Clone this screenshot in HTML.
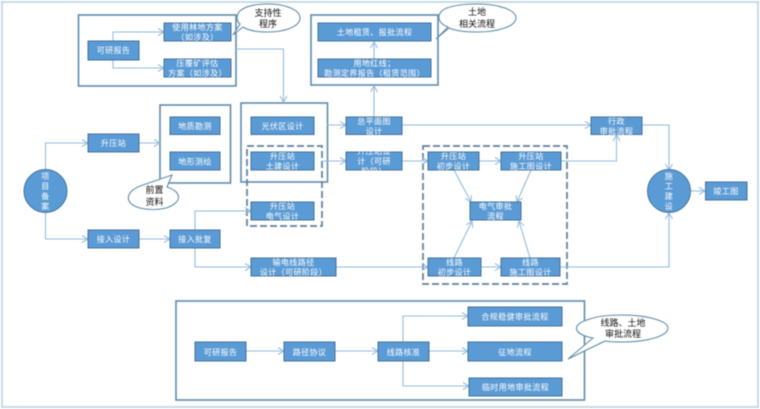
<!DOCTYPE html>
<html><head><meta charset="utf-8"><style>
html,body{margin:0;padding:0;background:#fff}
svg{display:block;filter:blur(.45px)}
text{font-family:"Liberation Sans","Noto Sans CJK SC",sans-serif;font-size:8px;text-anchor:middle;fill:#fff;letter-spacing:.4px}
text.k{fill:#111;font-size:9px;letter-spacing:0}
.b{fill:#5b9bd5;stroke:#41719c;stroke-width:1}
.g{fill:none;stroke:#5f8cab;stroke-width:1.6}
.d{fill:none;stroke:#5f7f9a;stroke-width:1.7;stroke-dasharray:7 3}
.c{fill:none;stroke:#94bcdc;stroke-width:1.1}
.o{fill:#fff;stroke:#5f8cab;stroke-width:1.1}
</style></head><body>
<svg width="760" height="409" viewBox="0 0 760 409" xmlns="http://www.w3.org/2000/svg">
<rect x="2" y="2" width="756" height="405" fill="#fff" stroke="#c8dae4" stroke-width="2"/>
<rect class="g" x="78.5" y="15" width="157.500" height="71"/>
<rect class="g" x="311" y="15" width="127" height="70"/>
<rect class="g" x="160" y="105" width="70.500" height="78"/>
<rect class="g" x="241" y="103" width="86.500" height="79"/>
<rect class="g" x="176" y="301" width="408.500" height="99"/>
<rect class="d" x="247" y="146" width="75" height="80"/>
<rect class="d" x="423" y="146" width="144" height="138"/>
<defs><marker id="a" markerWidth="8" markerHeight="8" refX="7" refY="4" orient="auto" markerUnits="userSpaceOnUse"><path d="M1 .5L7 4L1 7.500" fill="none" stroke="#94bcdc" stroke-width="1.1"/></marker></defs>
<g class="c" marker-end="url(#a)">
<path class="c" marker-end="url(#a)" d="M113 41V32H164"/>
<path class="c" marker-end="url(#a)" d="M113 60V68H164"/>
<path class="c" marker-end="url(#a)" d="M236 49H283.500V102"/>
<path class="c" marker-end="url(#a)" d="M45.500 170V143H88"/>
<path class="c" marker-end="url(#a)" d="M139 143H160"/>
<path class="c" marker-end="url(#a)" d="M45.500 212V239H88"/>
<path class="c" marker-end="url(#a)" d="M139 239H170"/>
<path class="c" marker-end="url(#a)" d="M195 230V211H251"/>
<path class="c" marker-end="url(#a)" d="M195 248V267H251"/>
<path class="c" marker-end="url(#a)" d="M327 125H346"/>
<path class="c" marker-end="url(#a)" d="M322 161H346"/>
<path class="c" marker-end="url(#a)" d="M374 117V86"/>
<path class="c" marker-end="url(#a)" d="M374 59V42"/>
<path class="c" marker-end="url(#a)" d="M402 125H591"/>
<path class="c" marker-end="url(#a)" d="M402 161H428"/>
<path class="c" marker-end="url(#a)" d="M479 161H501"/>
<path class="c" marker-end="url(#a)" d="M561 161H616.500V135"/>
<path class="c" marker-end="url(#a)" d="M642 125H669V170"/>
<path class="c" marker-end="url(#a)" d="M691 191H705"/>
<path class="c" marker-end="url(#a)" d="M454 170L471 202"/>
<path class="c" marker-end="url(#a)" d="M531 170L517 202"/>
<path class="c" marker-end="url(#a)" d="M454 258L472 221"/>
<path class="c" marker-end="url(#a)" d="M530 258L519 221"/>
<path class="c" marker-end="url(#a)" d="M336 267H428"/>
<path class="c" marker-end="url(#a)" d="M481 267H501"/>
<path class="c" marker-end="url(#a)" d="M560 267H669V213"/>
<path class="c" marker-end="url(#a)" d="M246 351H284"/>
<path class="c" marker-end="url(#a)" d="M335 351H378"/>
<path class="c" marker-end="url(#a)" d="M429 351H468"/>
<path class="c" marker-end="url(#a)" d="M403 342V316H468"/>
<path class="c" marker-end="url(#a)" d="M403 361V386H469"/>
</g>
<circle cx="45.500" cy="191" r="21.500" class="b"/>
<circle cx="669" cy="191" r="21.500" class="b"/>
<rect class="b" x="88" y="41" width="51" height="19"/>
<rect class="b" x="164" y="23" width="67" height="18"/>
<rect class="b" x="164" y="59" width="67" height="18"/>
<rect class="b" x="318" y="23" width="113" height="18"/>
<rect class="b" x="318" y="59" width="113" height="18"/>
<rect class="b" x="170" y="117" width="50" height="17.500"/>
<rect class="b" x="170" y="152" width="50" height="18"/>
<rect class="b" x="251" y="117" width="63" height="17.500"/>
<rect class="b" x="251" y="152" width="63" height="18"/>
<rect class="b" x="251" y="202" width="63" height="18"/>
<rect class="b" x="346" y="117" width="56" height="17.500"/>
<rect class="b" x="346" y="152" width="56" height="18"/>
<rect class="b" x="428" y="152" width="51" height="18"/>
<rect class="b" x="501" y="152" width="60" height="18"/>
<rect class="b" x="470" y="202" width="51" height="18"/>
<rect class="b" x="428" y="258" width="53" height="18"/>
<rect class="b" x="501" y="258" width="59" height="18"/>
<rect class="b" x="591" y="117" width="51" height="17.500"/>
<rect class="b" x="705.500" y="182" width="41.500" height="18"/>
<rect class="b" x="88" y="134" width="51" height="18"/>
<rect class="b" x="88" y="230" width="51" height="18"/>
<rect class="b" x="170" y="230" width="50" height="18"/>
<rect class="b" x="251" y="258" width="85" height="18"/>
<rect class="b" x="195" y="342" width="51" height="19"/>
<rect class="b" x="284" y="342" width="51" height="19"/>
<rect class="b" x="378" y="342" width="51" height="19"/>
<rect class="b" x="468" y="307" width="94" height="19"/>
<rect class="b" x="468" y="342" width="94" height="19"/>
<rect class="b" x="469" y="378" width="93" height="18"/>

<path class="o" d="M241 10C248 5 258 4 268 4C286 4 300 10 300 18C300 26 286 32 268 32C258 32 249 31 243 27L233 35L240 24C236 21 236 14 241 10Z"/>
<path class="o" d="M447 8C455 5 466 4 477 4C499 4 516 10 516 18C516 26 499 32 477 32C466 32 456 31 449 28L436 39L448 27C436 23 436 12 447 8Z"/>
<path class="o" d="M143 185L172 175L167 187C183 192 182 203 166 208C158 210 148 210 140 208C124 204 124 191 143 185Z"/>
<path class="o" d="M590 319C598 316 610 315 622 315C647 315 668 321 668 328C668 336 647 342 622 342C616 342 610 342 605 341L568 359L593 338C572 334 571 324 590 319Z"/>

<text x="113.500" y="53">可研报告</text>
<text x="197.500" y="30">使用林地方案</text><text x="197.500" y="40">（如涉及）</text>
<text x="197.500" y="66">压覆矿评估</text><text x="197.500" y="76">方案（如涉及）</text>
<text x="374.500" y="35">土地租赁、报批流程</text>
<text x="374.500" y="66">用地红线；</text><text x="374.500" y="76">勘测定界报告（租赁范围）</text>
<text x="195" y="129">地质勘测</text><text x="195" y="164.500">地形测绘</text>
<text x="282.500" y="129">光伏区设计</text>
<text x="282.500" y="159">升压站</text><text x="282.500" y="169">土建设计</text>
<text x="282.500" y="209">升压站</text><text x="282.500" y="219">电气设计</text>
<text x="374" y="124">总平面图</text><text x="374" y="134">设计</text>
<text x="374" y="154">升压站设</text><text x="374" y="164">计（可研</text><text x="374" y="174">阶段）</text>
<text x="453.500" y="159">升压站</text><text x="453.500" y="169">初步设计</text>
<text x="531" y="159">升压站</text><text x="531" y="169">施工图设计</text>
<text x="495.500" y="209">电气审批</text><text x="495.500" y="219">流程</text>
<text x="454.500" y="265">线路</text><text x="454.500" y="275">初步设计</text>
<text x="530.500" y="265">线路</text><text x="530.500" y="275">施工图设计</text>
<text x="616.500" y="124">行政</text><text x="616.500" y="134">审批流程</text>
<text x="726" y="194">竣工图</text>
<text x="113.500" y="146">升压站</text><text x="113.500" y="242">接入设计</text><text x="195" y="242">接入批复</text>
<text x="293.500" y="265">输电线路径</text><text x="293.500" y="275">设计（可研阶段）</text>
<text x="45.500" y="179">项</text><text x="45.500" y="189">目</text><text x="45.500" y="199">备</text><text x="45.500" y="209">案</text>
<text x="669" y="179">施</text><text x="669" y="189">工</text><text x="669" y="199">建</text><text x="669" y="209">设</text>
<text x="220.500" y="355">可研报告</text><text x="309.500" y="355">路径协议</text><text x="403.500" y="355">线路核准</text>
<text x="515" y="319.500">合规稳健审批流程</text><text x="515" y="355">征地流程</text><text x="515.500" y="390">临时用地审批流程</text>
<text class="k" x="268" y="16">支持性</text><text class="k" x="268" y="27">程序</text>
<text class="k" x="477" y="15">土地</text><text class="k" x="477" y="27">相关流程</text>
<text class="k" x="154.500" y="193">前置</text><text class="k" x="154.500" y="205">资料</text>
<text class="k" x="623" y="326">线路、土地</text><text class="k" x="623" y="337">审批流程</text>
</svg>
</body></html>
